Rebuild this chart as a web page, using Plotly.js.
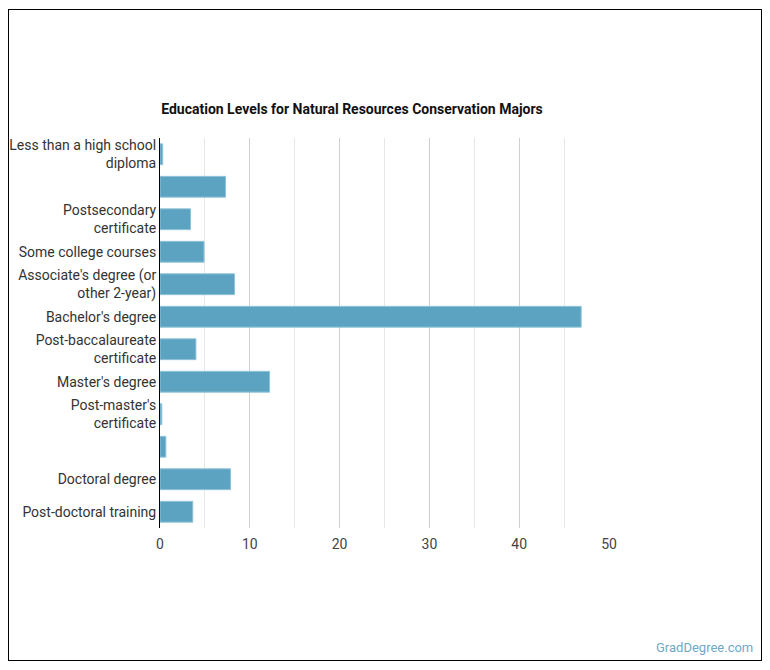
<!DOCTYPE html>
<html>
<head>
<meta charset="utf-8">
<script src="https://cdn.plot.ly/plotly-3.0.1.min.js"></script>
<style>
  html, body { margin: 0; padding: 0; background: #fff; }
  #wrap { position: relative; width: 770px; height: 670px; }
  #chart { position: absolute; left: 0; top: 0; width: 770px; height: 670px; }
  #frame { position: absolute; left: 8px; top: 9px; width: 752px; height: 650px;
           border: 1px solid #000; pointer-events: none; }
</style>
</head>
<body>
<div id="wrap">
  <div id="chart"></div>
  <div id="frame"></div>
</div>
<script>
// Education level labels (two rows carry no label text)
const levels = [
  "Less than a high school<br>diploma",
  "",
  "Postsecondary<br>certificate",
  "Some college courses",
  "Associate's degree (or<br>other 2-year)",
  "Bachelor's degree",
  "Post-baccalaureate<br>certificate",
  "Master's degree",
  "Post-master's<br>certificate",
  "",
  "Doctoral degree",
  "Post-doctoral training"
];

// Share of workers (%) at each level
const shares = [0.3, 7.3, 3.4, 4.9, 8.3, 46.9, 4.0, 12.2, 0.2, 0.65, 7.85, 3.65];

const xTicks = [0, 10, 20, 30, 40, 50];

const positions = levels.map((_, i) => i);

const trace = {
  type: "bar",
  orientation: "h",
  x: shares,
  y: positions,
  marker: { color: "#5ca3c1", line: { color: "#8fc3d8", width: 1 } },
  hoverinfo: "x"
};

const layout = {
  width: 770,
  height: 670,
  margin: { l: 160, r: 161, t: 138, b: 142 },
  paper_bgcolor: "#fff",
  plot_bgcolor: "#fff",
  bargap: 0.36,
  showlegend: false,
  font: { family: "Roboto, sans-serif", size: 14, color: "#333" },
  title: {
    text: "Education Levels for Natural Resources Conservation Majors",
    font: { family: "Roboto, sans-serif", size: 14, color: "#111", weight: "bold" },
    xref: "container", x: 352 / 770, xanchor: "center",
    yref: "container", y: 1 - 109 / 670, yanchor: "middle"
  },
  xaxis: {
    range: [0, 50],
    tickvals: xTicks,
    ticktext: xTicks.map(String),
    ticks: "",
    showgrid: true,
    gridcolor: "#cfcfcf",
    gridwidth: 1,
    minor: { dtick: 5, tick0: 0, showgrid: true, gridcolor: "#e6e6e6", gridwidth: 1 },
    zeroline: false,
    showline: false,
    tickfont: { size: 14, color: "#444" },
    ticklabelstandoff: 6,
    fixedrange: true
  },
  yaxis: {
    range: [11.5, -0.5],
    tickvals: positions,
    ticktext: levels,
    ticks: "",
    showgrid: false,
    zeroline: false,
    showline: true,
    linecolor: "#000",
    linewidth: 1,
    tickfont: { size: 14, color: "#333" },
    ticklabelstandoff: 0,
    fixedrange: true
  },
  annotations: [{
    text: "GradDegree.com",
    xref: "paper", yref: "paper",
    x: (755 - 160) / (770 - 160 - 161), xanchor: "right",
    y: -(647 - 528) / (670 - 138 - 142), yanchor: "middle",
    showarrow: false,
    font: { family: "Roboto, sans-serif", size: 13, color: "#6fa9c6" }
  }]
};

Plotly.newPlot("chart", [trace], layout, { displayModeBar: false, staticPlot: true });
</script>
</body>
</html>
